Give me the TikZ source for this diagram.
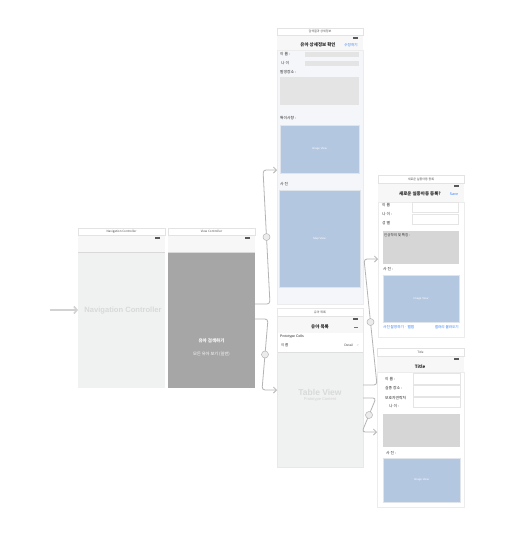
\documentclass[tikz,border=0pt]{standalone}
\usepackage{fontspec}
\setmainfont{Liberation Sans}
\newfontfamily\kr{Noto Sans CJK KR}
\usetikzlibrary{arrows.meta,fit}
\definecolor{scenebg}{HTML}{F0F1F1}
\definecolor{navbg}{HTML}{F7F7F7}
\definecolor{vcgray}{HTML}{A6A6A6}
\definecolor{imgblue}{HTML}{B4C7E1}
\definecolor{boxgray}{HTML}{E4E4E4}
\definecolor{boxgray2}{HTML}{D6D6D6}
\definecolor{iosblue}{HTML}{2F7CF6}
\definecolor{segue}{HTML}{B4B4B4}
\definecolor{scroll}{HTML}{F4F6F9}
\newcommand\uibox[4]{\node[#1, fit={#3 #4}, inner sep=0pt, outer sep=0pt] (#2) {};}
\tikzset{
  titlebar/.style={fill=white, draw=gray!22, line width=0.3pt},
  navbar/.style={fill=navbg},
  body/.style={fill=scenebg},
  frame/.style={draw=gray!18, line width=0.4pt},
  battery/.style={fill=black!65},
  ttl/.style={font=\kr\fontsize{3}{3}\selectfont, text=black!70, inner sep=0pt},
  navt/.style={font=\kr\bfseries\fontsize{4.5}{4.5}\selectfont, text=black!85, inner sep=0pt},
  lbl/.style={font=\kr\fontsize{3.8}{3.8}\selectfont, text=black!85, inner sep=0pt, anchor=west},
  blue/.style={font=\kr\fontsize{3.6}{3.6}\selectfont, text=iosblue, inner sep=0pt},
  imgv/.style={fill=imgblue, draw=imgblue!85!black!30, line width=0.3pt},
  imgt/.style={font=\fontsize{2.8}{2.8}\selectfont, text=white, inner sep=0pt},
  field/.style={fill=white, draw=gray!20, line width=0.3pt},
  gfield/.style={fill=boxgray},
  seg/.style={draw=segue, line width=0.8pt, rounded corners=3pt},
  segarr/.style={seg, -{Straight Barb[length=3pt,width=6pt]}},
  segdot/.style={circle, fill=gray!15, draw=segue, line width=0.5pt, minimum size=7pt, inner sep=0pt},
}
\begin{document}
\begin{tikzpicture}[x=1pt,y=-1pt]
\path[fill=white] (0,0) rectangle (506,552);
\useasboundingbox (0,0) rectangle (506,552);

% ---------- Navigation Controller ----------
\uibox{body}{ncbody}{(78,252)}{(165,388)}
\uibox{navbar}{ncnav}{(78,235)}{(165,252)}
\draw[gray!30, line width=0.8pt] (78,252.5) -- (165,252.5);
\uibox{titlebar}{nctitle}{(78,228)}{(165,235)}
\node[ttl] (nctt) at (nctitle) {Navigation Controller};
\uibox{battery}{ncbat}{(155,237.3)}{(159.5,239)}
\node[font=\bfseries\fontsize{7.6}{7.6}\selectfont, text=gray!30, inner sep=0pt] (nclbl) at (123,311) {Navigation Controller};
\coordinate (entry) at (50,310);
\draw[gray!35, line width=1.6pt, -{Straight Barb[length=3pt,width=7pt]}] (entry) -- (ncbody.west |- entry);

% ---------- View Controller ----------
\uibox{fill=vcgray}{vcbody}{(168,252)}{(255,388)}
\uibox{navbar}{vcnav}{(168,235)}{(255,252)}
\draw[gray!30, line width=0.8pt] (168,252.5) -- (255,252.5);
\uibox{titlebar}{vctitle}{(168,228)}{(255,235)}
\node[ttl] (vctt) at (vctitle) {View Controller};
\uibox{battery}{vcbat}{(245,237.3)}{(249.5,239)}
\node[font=\kr\bfseries\fontsize{4.5}{4.5}\selectfont, text=white, inner sep=0pt] (vcb1) at (211.5,341) {유아 검색하기};
\node[font=\kr\fontsize{4.2}{4.2}\selectfont, text=white, inner sep=0pt] (vcb2) at (211.5,354) {모든 유아 보기 (일반)};

% ---------- Detail scene (top middle) ----------
\uibox{fill=scroll, draw=gray!15, line width=0.4pt}{dbody}{(277,50)}{(363,304)}
\uibox{navbar}{dnav}{(277,35)}{(363,50)}
\uibox{titlebar}{dtitle}{(277,28)}{(363,35)}
\node[ttl] (dtt) at (dtitle) {검색결과 상세정보};
\uibox{battery}{dbat}{(353,37.3)}{(357.5,39)}
\node[navt] (dnt) at (318,45) {유아 상세정보 확인};
\node[blue] (dnb) at (351,45) {수정하기};
\node[lbl] (dl1) at (280,54.5) {이 름 :};
\uibox{gfield}{df1}{(305,52)}{(359,57)}
\node[lbl] (dl2) at (281,63.5) {나 이};
\uibox{gfield}{df2}{(305,61)}{(359,66)}
\node[lbl] (dl3) at (280,72) {발생장소 :};
\uibox{gfield}{dbox}{(280,77)}{(359,105)}
\node[lbl] (dl4) at (280,118.5) {특이사항 :};
\uibox{imgv}{dimg}{(280,125)}{(359,173)}
\node[imgt] (dimgt) at (dimg) {Image View};
\node[lbl] (dl5) at (280,184) {사 진};
\uibox{imgv}{dmap}{(279,190)}{(360,287)}
\node[imgt] (dmapt) at (dmap) {Map View};

% ---------- Table view scene ----------
\uibox{body}{tbody}{(277,352)}{(363,467)}
\uibox{fill=white}{tcells}{(277,333)}{(363,352)}
\draw[gray!25, line width=0.6pt] (277,352.5) -- (363,352.5);
\uibox{navbar}{tnav}{(277,316)}{(363,333)}
\uibox{titlebar}{ttitle}{(277,308)}{(363,316)}
\node[ttl] (ttt) at (ttitle) {유아 목록};
\uibox{battery}{tbat}{(353,318.3)}{(357.5,320)}
\node[navt] (tnt) at (320,327) {유아 목록};
\draw[iosblue, line width=0.8pt] (354,327) -- (358,327);
\node[lbl, font=\fontsize{3.5}{3.5}\selectfont] (tpc) at (280,336.5) {Prototype Cells};
\node[lbl, font=\kr\fontsize{3.5}{3.5}\selectfont] (tc1) at (281,345.5) {이 름};
\node[font=\fontsize{3.3}{3.3}\selectfont, text=black!70, inner sep=0pt, anchor=east] (tc2) at (353,345.5) {Detail};
\node[font=\fontsize{3.5}{3.5}\selectfont, text=gray!50, inner sep=0pt] (tc3) at (358,345.5) {>};
\node[font=\bfseries\fontsize{8.5}{8.5}\selectfont, text=gray!30, inner sep=0pt] (ttv) at (320,392) {Table View};
\node[font=\fontsize{4}{4}\selectfont, text=gray!35, inner sep=0pt] (ttp) at (320,400) {Prototype Content};
\draw[frame] (277,308) rectangle (363,467);

% ---------- Right top scene ----------
\uibox{fill=white, draw=gray!15, line width=0.4pt}{abody}{(378,202)}{(464,337)}
\uibox{navbar}{anav}{(378,183)}{(464,202)}
\uibox{titlebar}{atitle}{(378,175)}{(464,183)}
\node[ttl] (att) at (atitle) {새로운 실종아동 등록};
\uibox{battery}{abat}{(454,185.3)}{(458.5,187)}
\node[navt] (ant) at (420,194) {새로운 실종아동 등록?};
\node[blue] (anb) at (454,194) {Save};
\node[lbl] (al1) at (382,205.5) {이 름};
\node[lbl] (al2) at (382,214.5) {나 이 :};
\node[lbl] (al3) at (382,223.5) {성 별};
\uibox{field}{af1}{(412,202.5)}{(458,212)}
\uibox{field}{af2}{(412,214)}{(458,224)}
\uibox{fill=boxgray2}{abox}{(383,231)}{(459,264)}
\node[lbl, font=\kr\fontsize{3.5}{3.5}\selectfont] (abl) at (384,235) {인상착의 및 특징 :};
\node[lbl] (al4) at (383,269.5) {사 진 :};
\uibox{imgv}{aimg}{(383,275)}{(459,322)}
\node[imgt] (aimgt) at (aimg) {Image View};
\node[blue, anchor=west] (ab1) at (383,327.5) {사진 촬영하기 · 앨범};
\node[blue, anchor=east] (ab2) at (459,327.5) {갤러리 불러오기};

% ---------- Right bottom scene ----------
\uibox{fill=white, draw=gray!15, line width=0.4pt}{bbody}{(377,372)}{(464,507)}
\uibox{navbar}{bnav}{(377,356)}{(464,372)}
\uibox{titlebar}{btitle}{(377,348)}{(464,356)}
\node[ttl] (btt) at (btitle) {Title};
\uibox{battery}{bbat}{(454,358.3)}{(458.5,360)}
\node[navt] (bnt) at (420,366.5) {Title};
\node[lbl] (bl1) at (385,379) {이 름 :};
\node[lbl] (bl2) at (385,388.5) {실종 장소 :};
\node[lbl] (bl3) at (385,398) {보호자연락처};
\node[lbl] (bl4) at (389,406.5) {나 이 :};
\uibox{field}{bf1}{(413,373.5)}{(460,384)}
\uibox{field}{bf2}{(413,385.5)}{(460,396)}
\uibox{field}{bf3}{(413,397.5)}{(460,407.5)}
\uibox{fill=boxgray2}{bbox}{(383,414)}{(460,447)}
\node[lbl] (bl5) at (386,453) {사 진 :};
\uibox{imgv}{bimg}{(383,458)}{(460,502)}
\node[imgt] (bimgt) at (bimg) {Image View};

% ---------- Segues ----------
\coordinate (s1a) at (vcbody.east |- 0,304);
\coordinate (s1b) at (dbody.west |- 0,170);
\draw[segarr] (s1a) -- (270,304) -- (263,170) -- (s1b);
\node[segdot] (d1) at (266.5,237) {};
\coordinate (s2a) at (vcbody.east |- 0,319);
\coordinate (s2b) at (tbody.west |- 0,390);
\draw[segarr] (s2a) -- (268,319) -- (262,390) -- (s2b);
\node[segdot] (d2) at (265,354.5) {};
\coordinate (s3a) at (tbody.east |- 0,385);
\coordinate (s3b) at (abody.west |- 0,259);
\draw[segarr] (s3a) -- (377,385) -- (364,259) -- (s3b);
\node[segdot] (d3) at (370.5,322) {};
\coordinate (s4a) at (tbody.east |- 0,398);
\coordinate (s4b) at (bbody.west |- 0,432);
\draw[segarr] (s4a) -- (376,398) -- (362,432) -- (s4b);
\node[segdot] (d4) at (369,415) {};
\end{tikzpicture}
\end{document}
